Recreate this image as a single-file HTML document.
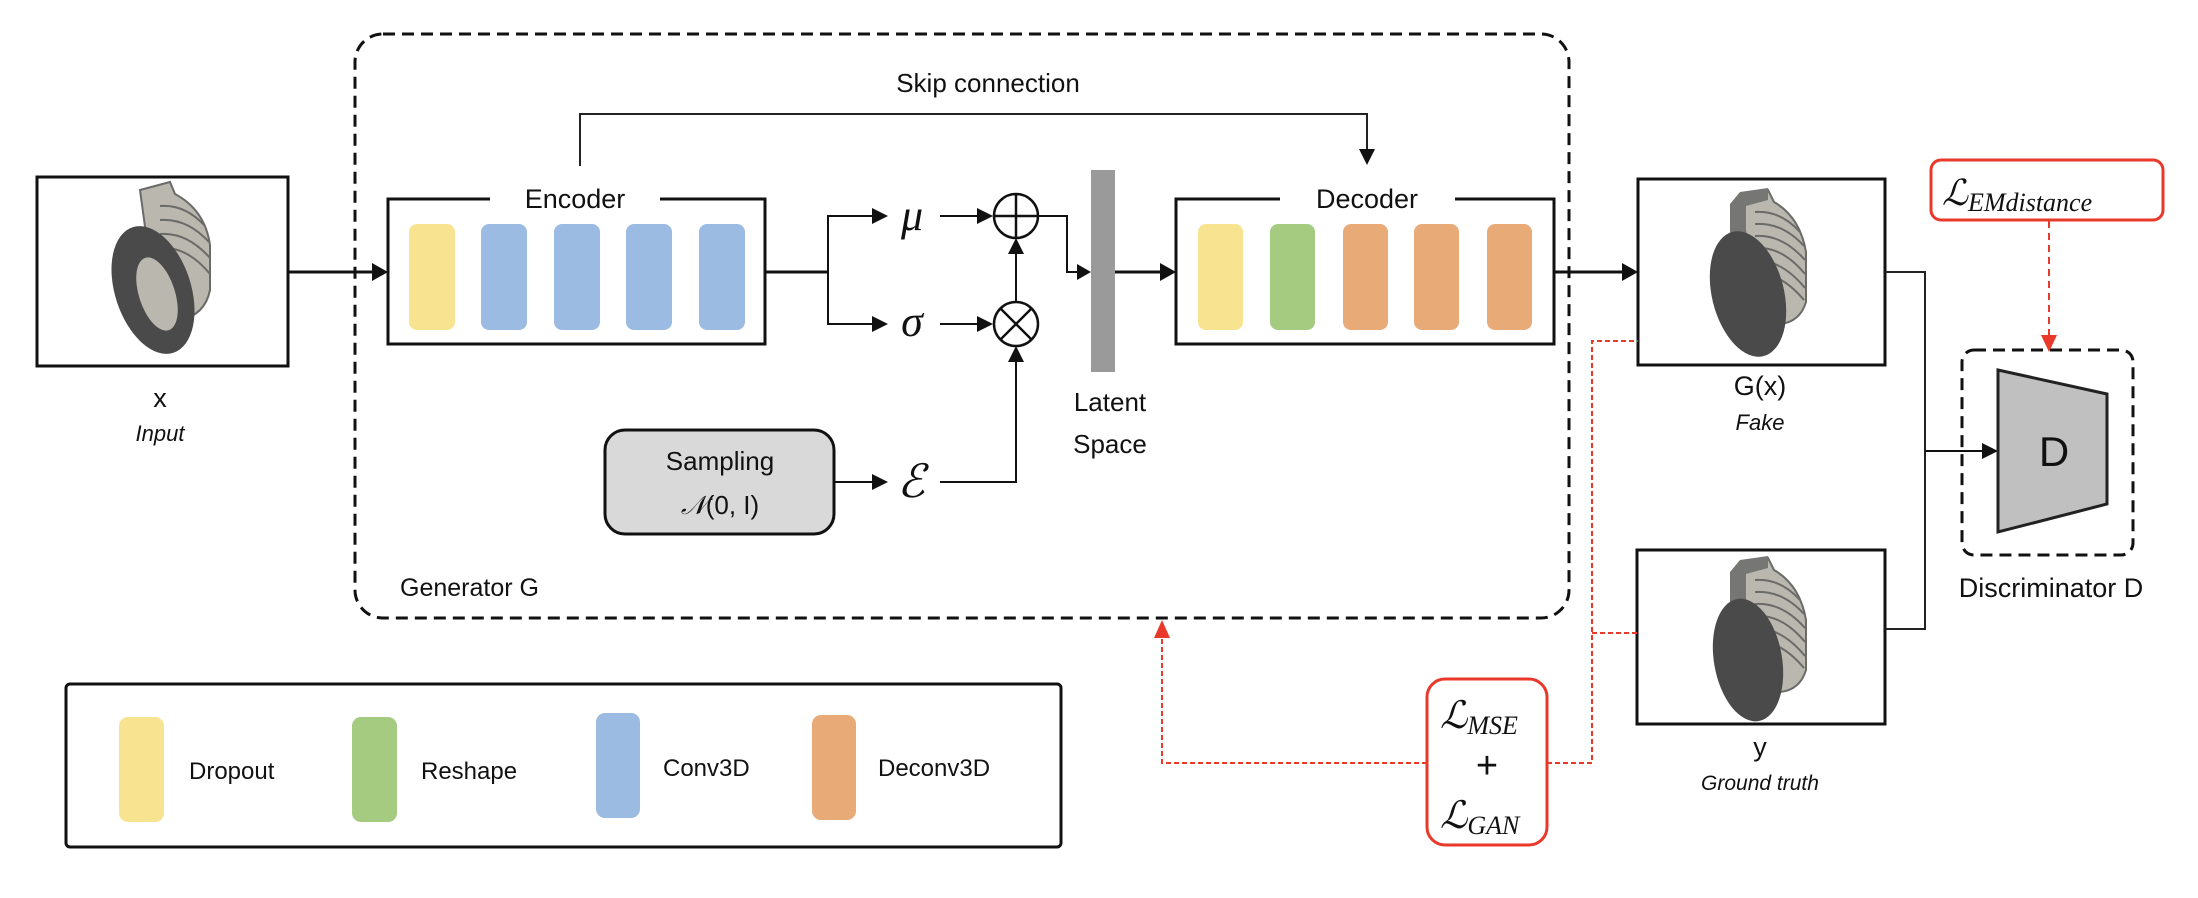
<!DOCTYPE html>
<html><head><meta charset="utf-8"><style>
html,body{margin:0;padding:0;background:#fff;}
svg{display:block;}
text{font-family:"Liberation Sans",sans-serif;fill:#111;}
.m{font-family:"Liberation Serif","DejaVu Serif",serif;font-style:italic;}
</style></head><body>
<svg width="2198" height="898" viewBox="0 0 2198 898" xmlns="http://www.w3.org/2000/svg">
<defs>
<marker id="ar" viewBox="0 0 10 10" refX="10" refY="5" markerWidth="7" markerHeight="7" orient="auto" markerUnits="userSpaceOnUse">
</marker>
<g id="obj">
  <path d="M-22,-75 L8,-82 L14,-70 Q40,-55 46,-20 L46,30 Q40,50 20,52 L0,30 Z" fill="#b9b7ae" stroke="#6a6a68" stroke-width="2"/>
  <path d="M-30,-68 L-20,-80 L8,-84 L8,-72 L-14,-66 L-14,-20 L-30,-20 Z" fill="#767674"/>
  <g stroke="#6a6a68" stroke-width="2" fill="none">
    <path d="M-5,-60 Q20,-62 40,-40"/><path d="M-5,-48 Q22,-50 44,-26"/><path d="M-5,-36 Q22,-38 45,-12"/><path d="M-5,-24 Q22,-26 45,2"/><path d="M-5,-12 Q22,-12 45,16"/><path d="M0,2 Q22,2 44,28"/>
  </g>
</g>
</defs>

<!-- Generator dashed box -->
<rect x="355" y="34" width="1214" height="584" rx="28" fill="none" stroke="#111" stroke-width="3" stroke-dasharray="12,7"/>
<text x="400" y="596" font-size="25">Generator G</text>

<!-- Input box -->
<rect x="37" y="177" width="251" height="189" fill="#fff" stroke="#111" stroke-width="3"/>
<g transform="translate(165,270)">
  <path d="M-25,-80 L5,-88 L10,-76 Q40,-60 45,-25 L45,20 Q40,45 15,50 L-10,30 Z" fill="#b9b7ae" stroke="#6a6a68" stroke-width="2"/>
  <g stroke="#6a6a68" stroke-width="2" fill="none"><path d="M-5,-64 Q20,-66 40,-44"/><path d="M-5,-50 Q22,-52 44,-28"/><path d="M-5,-36 Q22,-38 45,-12"/><path d="M-5,-22 Q22,-24 45,4"/></g>
  <ellipse cx="-12" cy="20" rx="38" ry="66" transform="rotate(-18 -12 20)" fill="#4a4a4a"/>
  <ellipse cx="-8" cy="24" rx="18" ry="38" transform="rotate(-18 -8 24)" fill="#b9b7ae"/>
</g>
<text x="160" y="407" font-size="27" text-anchor="middle">x</text>
<text x="160" y="441" font-size="22" font-style="italic" text-anchor="middle">Input</text>

<!-- input -> encoder -->
<line x1="288" y1="272" x2="376" y2="272" stroke="#111" stroke-width="3"/>
<path d="M388,272 L372,263 L372,281 Z" fill="#111"/>

<!-- Encoder -->
<rect x="388" y="199" width="377" height="145" fill="#fff" stroke="#111" stroke-width="3"/>
<rect x="490" y="186" width="170" height="24" fill="#fff"/>
<text x="575" y="208" font-size="27" text-anchor="middle">Encoder</text>
<rect x="409" y="224" width="46" height="106" rx="8" fill="#f8e391"/>
<rect x="481" y="224" width="46" height="106" rx="8" fill="#9cbbe3"/>
<rect x="554" y="224" width="46" height="106" rx="8" fill="#9cbbe3"/>
<rect x="626" y="224" width="46" height="106" rx="8" fill="#9cbbe3"/>
<rect x="699" y="224" width="46" height="106" rx="8" fill="#9cbbe3"/>

<!-- skip connection -->
<polyline points="580,166 580,114 1367,114 1367,150" fill="none" stroke="#222" stroke-width="2"/>
<path d="M1367,165 L1359,149 L1375,149 Z" fill="#111"/>
<text x="988" y="92" font-size="26" text-anchor="middle">Skip connection</text>

<!-- encoder branches -->
<polyline points="765,272 828,272" fill="none" stroke="#111" stroke-width="3"/>
<polyline points="872,216 828,216 828,324 872,324" fill="none" stroke="#111" stroke-width="2"/>
<path d="M888,216 L872,208 L872,224 Z" fill="#111"/>
<path d="M888,324 L872,316 L872,332 Z" fill="#111"/>
<text x="912" y="230" font-size="44" class="m" text-anchor="middle">μ</text>
<text x="912" y="336" font-size="44" class="m" text-anchor="middle">σ</text>

<line x1="940" y1="216" x2="980" y2="216" stroke="#111" stroke-width="2"/>
<path d="M993,216 L977,208 L977,224 Z" fill="#111"/>
<line x1="940" y1="324" x2="980" y2="324" stroke="#111" stroke-width="2"/>
<path d="M993,324 L977,316 L977,332 Z" fill="#111"/>

<circle cx="1016" cy="216" r="22" fill="#fff" stroke="#111" stroke-width="2.5"/>
<line x1="994" y1="216" x2="1038" y2="216" stroke="#111" stroke-width="2.5"/>
<line x1="1016" y1="194" x2="1016" y2="238" stroke="#111" stroke-width="2.5"/>
<circle cx="1016" cy="324" r="22" fill="#fff" stroke="#111" stroke-width="2.5"/>
<line x1="1000.5" y1="308.5" x2="1031.5" y2="339.5" stroke="#111" stroke-width="2.5"/>
<line x1="1031.5" y1="308.5" x2="1000.5" y2="339.5" stroke="#111" stroke-width="2.5"/>

<line x1="1016" y1="302" x2="1016" y2="252" stroke="#111" stroke-width="2"/>
<path d="M1016,238 L1008,254 L1024,254 Z" fill="#111"/>
<polyline points="940,482 1016,482 1016,360" fill="none" stroke="#111" stroke-width="2"/>
<path d="M1016,346 L1008,362 L1024,362 Z" fill="#111"/>

<!-- sampling -->
<rect x="605" y="430" width="229" height="104" rx="20" fill="#d9d9d9" stroke="#111" stroke-width="3"/>
<text x="720" y="470" font-size="26" text-anchor="middle">Sampling</text>
<text x="720" y="514" font-size="26" text-anchor="middle"><tspan class="m" font-family="DejaVu Serif">𝒩</tspan>(0, I)</text>
<line x1="834" y1="482" x2="874" y2="482" stroke="#111" stroke-width="2"/>
<path d="M888,482 L872,474 L872,490 Z" fill="#111"/>
<text x="911" y="497" font-size="46" class="m" text-anchor="middle">ℰ</text>

<!-- oplus -> latent -->
<polyline points="1038,216 1067,216 1067,272 1078,272" fill="none" stroke="#111" stroke-width="2"/>
<path d="M1091,272 L1077,264 L1077,280 Z" fill="#111"/>
<rect x="1091" y="170" width="24" height="202" fill="#9a9a9a"/>
<text x="1110" y="411" font-size="26" text-anchor="middle">Latent</text>
<text x="1110" y="453" font-size="26" text-anchor="middle">Space</text>

<!-- latent -> decoder -->
<line x1="1115" y1="272" x2="1163" y2="272" stroke="#111" stroke-width="3"/>
<path d="M1176,272 L1160,263 L1160,281 Z" fill="#111"/>

<!-- Decoder -->
<rect x="1176" y="199" width="378" height="145" fill="#fff" stroke="#111" stroke-width="3"/>
<rect x="1280" y="186" width="175" height="24" fill="#fff"/>
<text x="1367" y="208" font-size="27" text-anchor="middle">Decoder</text>
<rect x="1198" y="224" width="45" height="106" rx="8" fill="#f8e391"/>
<rect x="1270" y="224" width="45" height="106" rx="8" fill="#a5cb80"/>
<rect x="1343" y="224" width="45" height="106" rx="8" fill="#e8ab78"/>
<rect x="1414" y="224" width="45" height="106" rx="8" fill="#e8ab78"/>
<rect x="1487" y="224" width="45" height="106" rx="8" fill="#e8ab78"/>

<!-- decoder -> G(x) -->
<line x1="1554" y1="272" x2="1624" y2="272" stroke="#111" stroke-width="3"/>
<path d="M1638,272 L1622,263 L1622,281 Z" fill="#111"/>

<!-- G(x) box -->
<rect x="1638" y="179" width="247" height="186" fill="#fff" stroke="#111" stroke-width="3"/>
<g transform="translate(1760,272)">
  <use href="#obj"/>
  <ellipse cx="-12" cy="22" rx="36" ry="64" transform="rotate(-14 -12 22)" fill="#4a4a4a"/>
</g>
<text x="1760" y="395" font-size="27" text-anchor="middle">G(x)</text>
<text x="1760" y="430" font-size="22" font-style="italic" text-anchor="middle">Fake</text>

<!-- y box -->
<rect x="1637" y="550" width="248" height="174" fill="#fff" stroke="#111" stroke-width="3"/>
<g transform="translate(1760,640)">
  <use href="#obj"/>
  <ellipse cx="-12" cy="20" rx="34" ry="62" transform="rotate(-10 -12 20)" fill="#4a4a4a"/>
</g>
<text x="1760" y="756" font-size="27" text-anchor="middle">y</text>
<text x="1760" y="790" font-size="21" font-style="italic" text-anchor="middle">Ground truth</text>

<!-- to discriminator -->
<polyline points="1885,272 1925,272 1925,629 1885,629" fill="none" stroke="#222" stroke-width="2"/>
<line x1="1925" y1="451" x2="1984" y2="451" stroke="#111" stroke-width="2"/>
<path d="M1998,451 L1982,443 L1982,459 Z" fill="#111"/>
<rect x="1962" y="350" width="171" height="205" rx="12" fill="none" stroke="#111" stroke-width="3" stroke-dasharray="12,7"/>
<path d="M1998,370 L2107,394 L2107,504 L1998,532 Z" fill="#c0c0c0" stroke="#222" stroke-width="3"/>
<text x="2054" y="466" font-size="42" text-anchor="middle">D</text>
<text x="2051" y="597" font-size="27" text-anchor="middle">Discriminator D</text>

<!-- EM loss -->
<rect x="1931" y="160" width="232" height="60" rx="10" fill="#fff" stroke="#e8392a" stroke-width="3"/>
<text x="1942" y="205" class="m" font-size="36">ℒ<tspan font-size="26" dy="6">EMdistance</tspan></text>
<line x1="2049" y1="221" x2="2049" y2="336" stroke="#e8392a" stroke-width="2" stroke-dasharray="7,5"/>
<path d="M2049,352 L2041,335 L2057,335 Z" fill="#e8392a"/>

<!-- MSE+GAN loss -->
<rect x="1427" y="679" width="120" height="166" rx="18" fill="#fff" stroke="#e8392a" stroke-width="3"/>
<text x="1440" y="728" class="m" font-size="38">ℒ<tspan font-size="26" dy="6">MSE</tspan></text>
<text x="1487" y="778" font-size="38" text-anchor="middle">+</text>
<text x="1440" y="828" class="m" font-size="38">ℒ<tspan font-size="26" dy="6">GAN</tspan></text>

<polyline points="1427,763 1162,763 1162,636" fill="none" stroke="#e8392a" stroke-width="2" stroke-dasharray="5,3"/>
<path d="M1162,620 L1154,638 L1170,638 Z" fill="#e8392a"/>
<polyline points="1547,763 1592,763 1592,341 1638,341" fill="none" stroke="#e8392a" stroke-width="2" stroke-dasharray="5,3"/>
<line x1="1592" y1="633" x2="1637" y2="633" stroke="#e8392a" stroke-width="2" stroke-dasharray="5,3"/>

<!-- Legend -->
<rect x="66" y="684" width="995" height="163" rx="4" fill="#fff" stroke="#111" stroke-width="3"/>
<rect x="119" y="717" width="45" height="105" rx="9" fill="#f8e391"/>
<rect x="352" y="717" width="45" height="105" rx="9" fill="#a5cb80"/>
<rect x="596" y="713" width="44" height="105" rx="9" fill="#9cbbe3"/>
<rect x="812" y="715" width="44" height="105" rx="9" fill="#e8ab78"/>
<text x="189" y="779" font-size="24">Dropout</text>
<text x="421" y="779" font-size="24">Reshape</text>
<text x="663" y="776" font-size="24">Conv3D</text>
<text x="878" y="776" font-size="24">Deconv3D</text>
</svg>
</body></html>
